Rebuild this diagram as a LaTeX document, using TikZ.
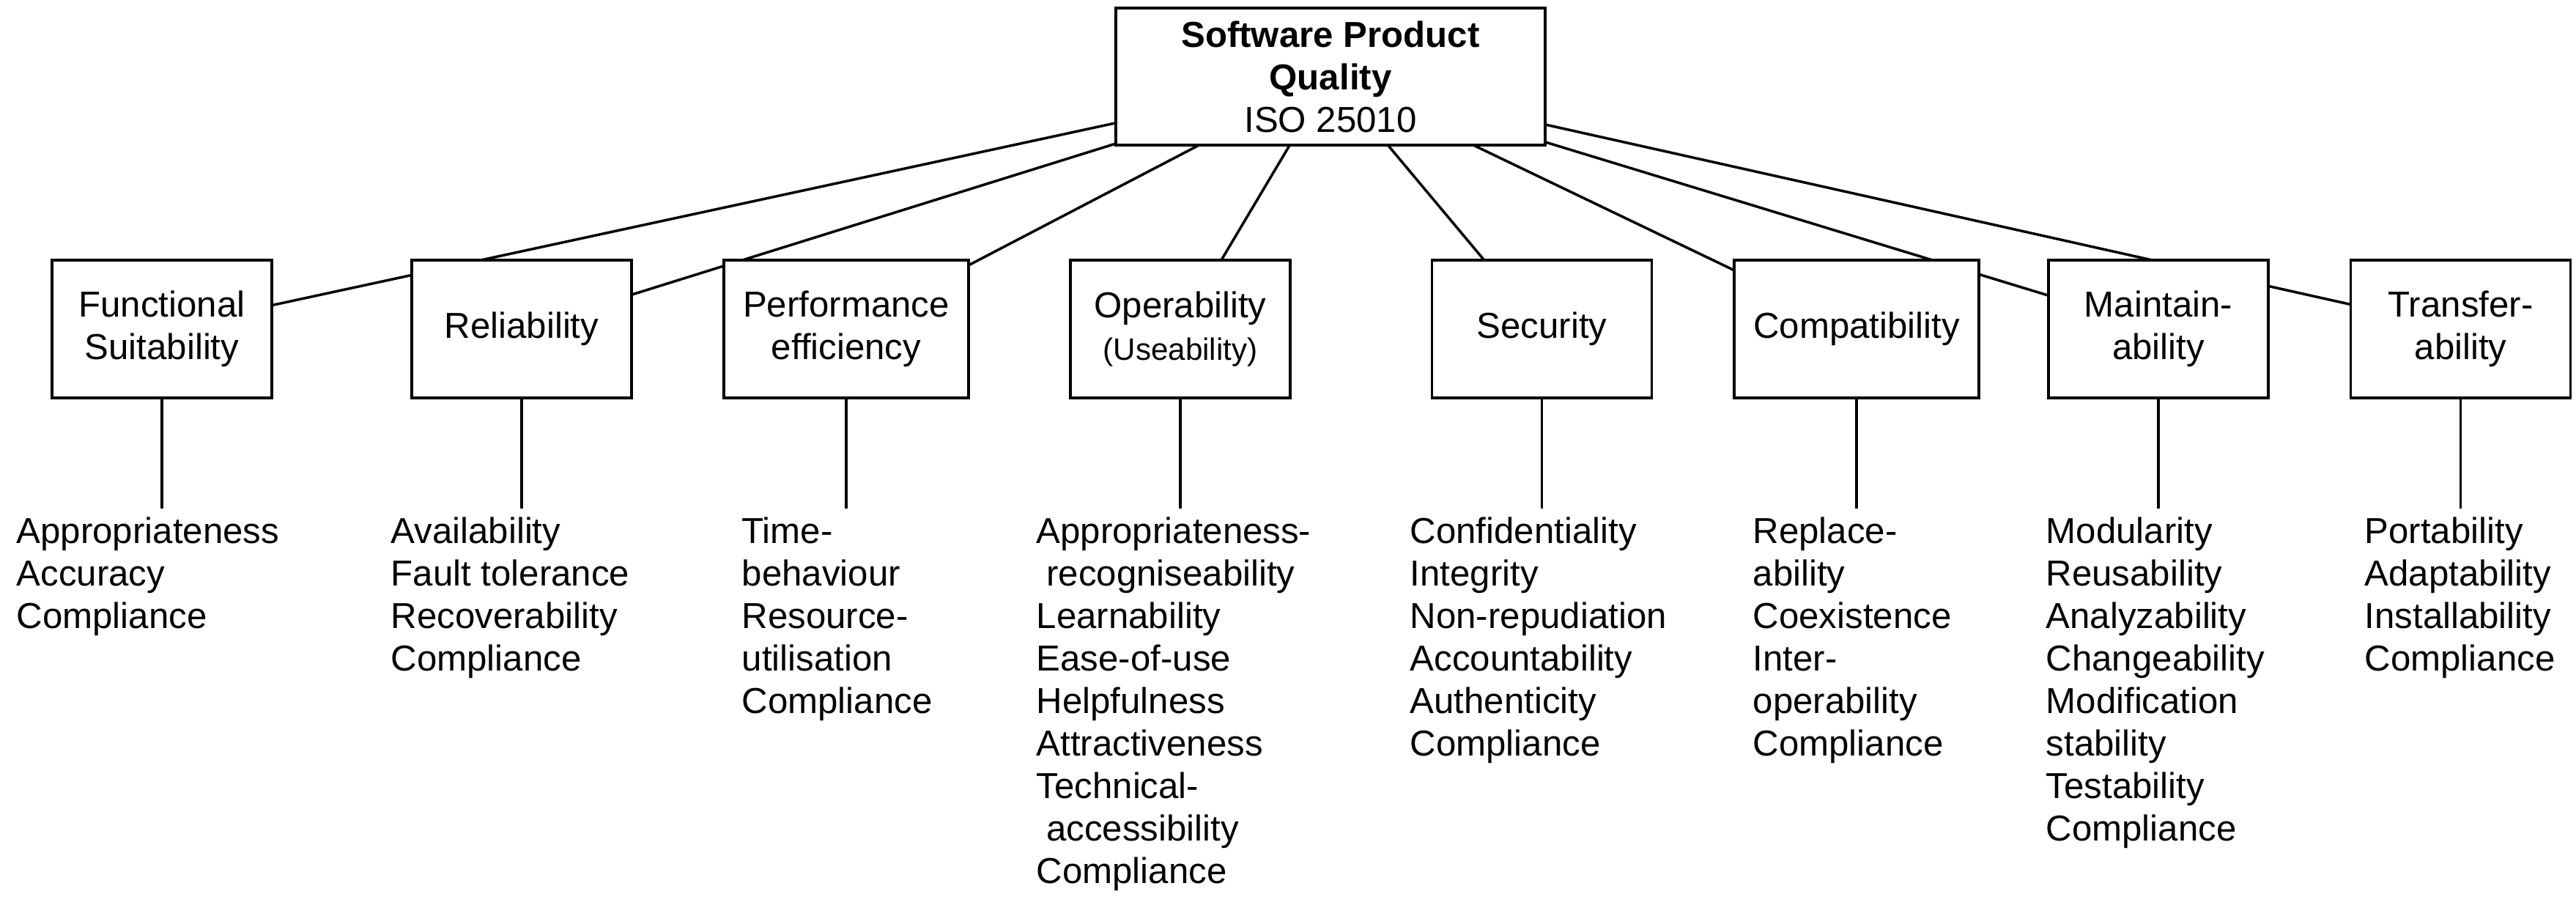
\documentclass[tikz,border=0pt]{standalone}
\usepackage{fontspec}
\setmainfont{Liberation Sans}
\usetikzlibrary{backgrounds}

\begin{document}
\begin{tikzpicture}[
    quality/.style={rectangle, draw=black, fill=white, line width=1pt, minimum width=3cm, minimum height=1.88cm, align=center, font=\fontsize{14}{16.5}\selectfont},
    subchar/.style={anchor=north west, inner xsep=0pt, inner ysep=3.1pt, align=left, font=\fontsize{14}{16.5}\selectfont, execute at begin node=\strut},
    link/.style={line width=1pt}
  ]
  \useasboundingbox (0,0) rectangle (35.16,-12.49);

  % root
  \node[quality, minimum width=5.86cm, minimum height=1.87cm] (sqp) at (18.16,-1.045) {\textbf{Software Product}\\\textbf{Quality}\\ISO 25010};

  % characteristics
  \node[quality] (func) at (2.21,-4.49) {Functional\\Suitability};
  \node[quality] (reli) at (7.12,-4.49) {Reliability};
  \node[quality, minimum width=3.34cm] (perf) at (11.55,-4.49) {Performance\\efficiency};
  \node[quality] (oper) at (16.11,-4.49) {Operability\\{\fontsize{12}{14}\selectfont (Useability)}};
  \node[quality] (secu) at (21.045,-4.49) {Security};
  \node[quality, minimum width=3.34cm] (comp) at (25.34,-4.49) {Compatibility};
  \node[quality] (main) at (29.46,-4.49) {Maintain-\\ability};
  \node[quality] (tran) at (33.585,-4.49) {Transfer-\\ability};

  % sub-characteristics
  \node[subchar] (funcList) at (0.22,-6.94) {Appropriateness\\Accuracy\\Compliance};
  \node[subchar] (reliList) at (5.33,-6.94) {Availability\\Fault tolerance\\Recoverability\\Compliance};
  \node[subchar] (perfList) at (10.12,-6.94) {Time-\\behaviour\\Resource-\\utilisation\\Compliance};
  \node[subchar] (operList) at (14.14,-6.94) {Appropriateness-\\\ recogniseability\\Learnability\\Ease-of-use\\Helpfulness\\Attractiveness\\Technical-\\\ accessibility\\Compliance};
  \node[subchar] (secuList) at (19.24,-6.94) {Confidentiality\\Integrity\\Non-repudiation\\Accountability\\Authenticity\\Compliance};
  \node[subchar] (compList) at (23.92,-6.94) {Replace-\\ability\\Coexistence\\Inter-\\operability\\Compliance};
  \node[subchar] (mainList) at (27.92,-6.94) {Modularity\\Reusability\\Analyzability\\Changeability\\Modification\\stability\\Testability\\Compliance};
  \node[subchar] (tranList) at (32.27,-6.94) {Portability\\Adaptability\\Installability\\Compliance};

  % connectors, centre to centre behind the boxes
  \begin{pgfonlayer}{background}
    \foreach \c in {func,reli,perf,oper,secu,comp,main,tran}
      \draw[link] (sqp.center) -- (\c.center);
  \end{pgfonlayer}
  \foreach \c in {func,reli,perf,oper,secu,comp,main,tran}
    \draw[link] (\c.south) -- (\c.south |- \c List.north);
\end{tikzpicture}
\end{document}
